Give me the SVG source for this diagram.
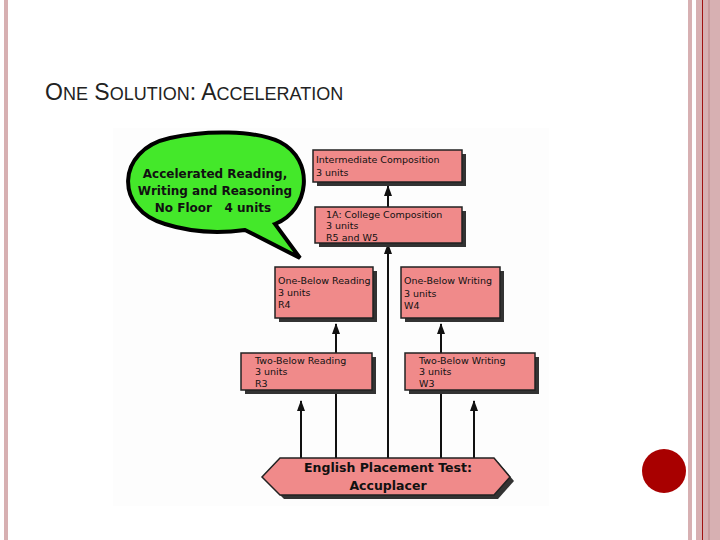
<svg xmlns="http://www.w3.org/2000/svg" width="720" height="540" viewBox="0 0 720 540">
<defs>
<style>
.box{fill:#f08a8a;stroke:#222;stroke-width:1.5}
.sh{fill:#333}
.t{font-family:"DejaVu Sans",sans-serif;font-size:9.5px;fill:#111}
.c{stroke:#111;stroke-width:2;fill:none}
</style>
<marker id="ah" markerWidth="11" markerHeight="8" refX="10" refY="4" orient="auto" markerUnits="userSpaceOnUse" viewBox="0 0 11 8"><path d="M0,0 L11,4 L0,8 Z" fill="#111"/></marker>
</defs>
<rect width="720" height="540" fill="#fff"/>
<rect x="4" y="0" width="4" height="540" fill="#d7b0b2"/>
<rect x="688" y="0" width="4" height="540" fill="#d7b0b2"/>
<rect x="696" y="0" width="24" height="540" fill="#d7b0b2"/>
<rect x="702" y="0" width="1" height="540" fill="#a01010"/>
<rect x="708" y="0" width="2" height="540" fill="#c99a9c"/>
<circle cx="664" cy="471" r="22" fill="#a80000"/>
<text x="45" y="100" font-family="Liberation Sans,Arial,sans-serif" fill="#222" font-size="23">O<tspan font-size="18">NE</tspan> S<tspan font-size="18">OLUTION</tspan>: A<tspan font-size="18">CCELERATION</tspan></text>
<rect x="113" y="128" width="436" height="378" fill="#fdfdfd"/>
<g id="bubble">
<path d="M165,224 C115,210 115,150 170,138 C205,130 255,130 280,142 C315,160 310,210 275,224 L300,258 L245,230 C215,234 190,232 165,224 Z" fill="#44e82a" stroke="#000" stroke-width="4"/>
<text font-family="DejaVu Sans,sans-serif" font-weight="bold" font-size="12" fill="#111" text-anchor="middle"><tspan x="215" y="178">Accelerated Reading,</tspan><tspan x="215" y="195">Writing and Reasoning</tspan><tspan x="213" y="212" xml:space="preserve">No Floor   4 units</tspan></text>
</g>
<g id="connectors">
<line class="c" x1="301" y1="458" x2="301" y2="401" marker-end="url(#ah)"/>
<line class="c" x1="336" y1="458" x2="336" y2="390"/>
<line class="c" x1="336" y1="353" x2="336" y2="324" marker-end="url(#ah)"/>
<line class="c" x1="388" y1="458" x2="388" y2="244" marker-end="url(#ah)"/>
<line class="c" x1="388" y1="207" x2="388" y2="186" marker-end="url(#ah)"/>
<line class="c" x1="441" y1="458" x2="441" y2="390"/>
<line class="c" x1="441" y1="353" x2="441" y2="324" marker-end="url(#ah)"/>
<line class="c" x1="474" y1="458" x2="474" y2="401" marker-end="url(#ah)"/>
</g>
<g id="n-int"><rect class="sh" x="317" y="154" width="149" height="32"/><rect class="box" x="313" y="150" width="149" height="32"/><text class="t"><tspan x="316" y="163">Intermediate Composition</tspan><tspan x="316" y="176">3 units</tspan></text></g>
<g id="n-1a"><rect class="sh" x="319" y="211" width="147" height="36"/><rect class="box" x="315" y="207" width="147" height="36"/><text class="t"><tspan x="326" y="218">1A: College Composition</tspan><tspan x="326" y="229">3 units</tspan><tspan x="326" y="241">R5 and W5</tspan></text></g>
<g id="n-obr"><rect class="sh" x="279" y="271" width="98" height="51"/><rect class="box" x="275" y="267" width="98" height="51"/><text class="t"><tspan x="278" y="284">One-Below Reading</tspan><tspan x="278" y="296">3 units</tspan><tspan x="278" y="308">R4</tspan></text></g>
<g id="n-obw"><rect class="sh" x="405" y="271" width="99" height="51"/><rect class="box" x="401" y="267" width="99" height="51"/><text class="t"><tspan x="404" y="284">One-Below Writing</tspan><tspan x="404" y="297">3 units</tspan><tspan x="404" y="309">W4</tspan></text></g>
<g id="n-tbr"><rect class="sh" x="245" y="357" width="131" height="37"/><rect class="box" x="241" y="353" width="131" height="37"/><text class="t"><tspan x="255" y="364">Two-Below Reading</tspan><tspan x="255" y="375">3 units</tspan><tspan x="255" y="387">R3</tspan></text></g>
<g id="n-tbw"><rect class="sh" x="409" y="357" width="130" height="37"/><rect class="box" x="405" y="353" width="130" height="37"/><text class="t"><tspan x="419" y="364">Two-Below Writing</tspan><tspan x="419" y="375">3 units</tspan><tspan x="419" y="387">W3</tspan></text></g>
<g id="n-ept"><polygon points="284,462 498,462 514,481 498,499 284,499 266,481" fill="#333"/><polygon class="box" points="280,458 494,458 510,477 494,495 280,495 262,477"/><text font-family="DejaVu Sans,sans-serif" font-weight="bold" font-size="12.5" fill="#111" text-anchor="middle"><tspan x="388" y="472">English Placement Test:</tspan><tspan x="388" y="490">Accuplacer</tspan></text></g>
</svg>
